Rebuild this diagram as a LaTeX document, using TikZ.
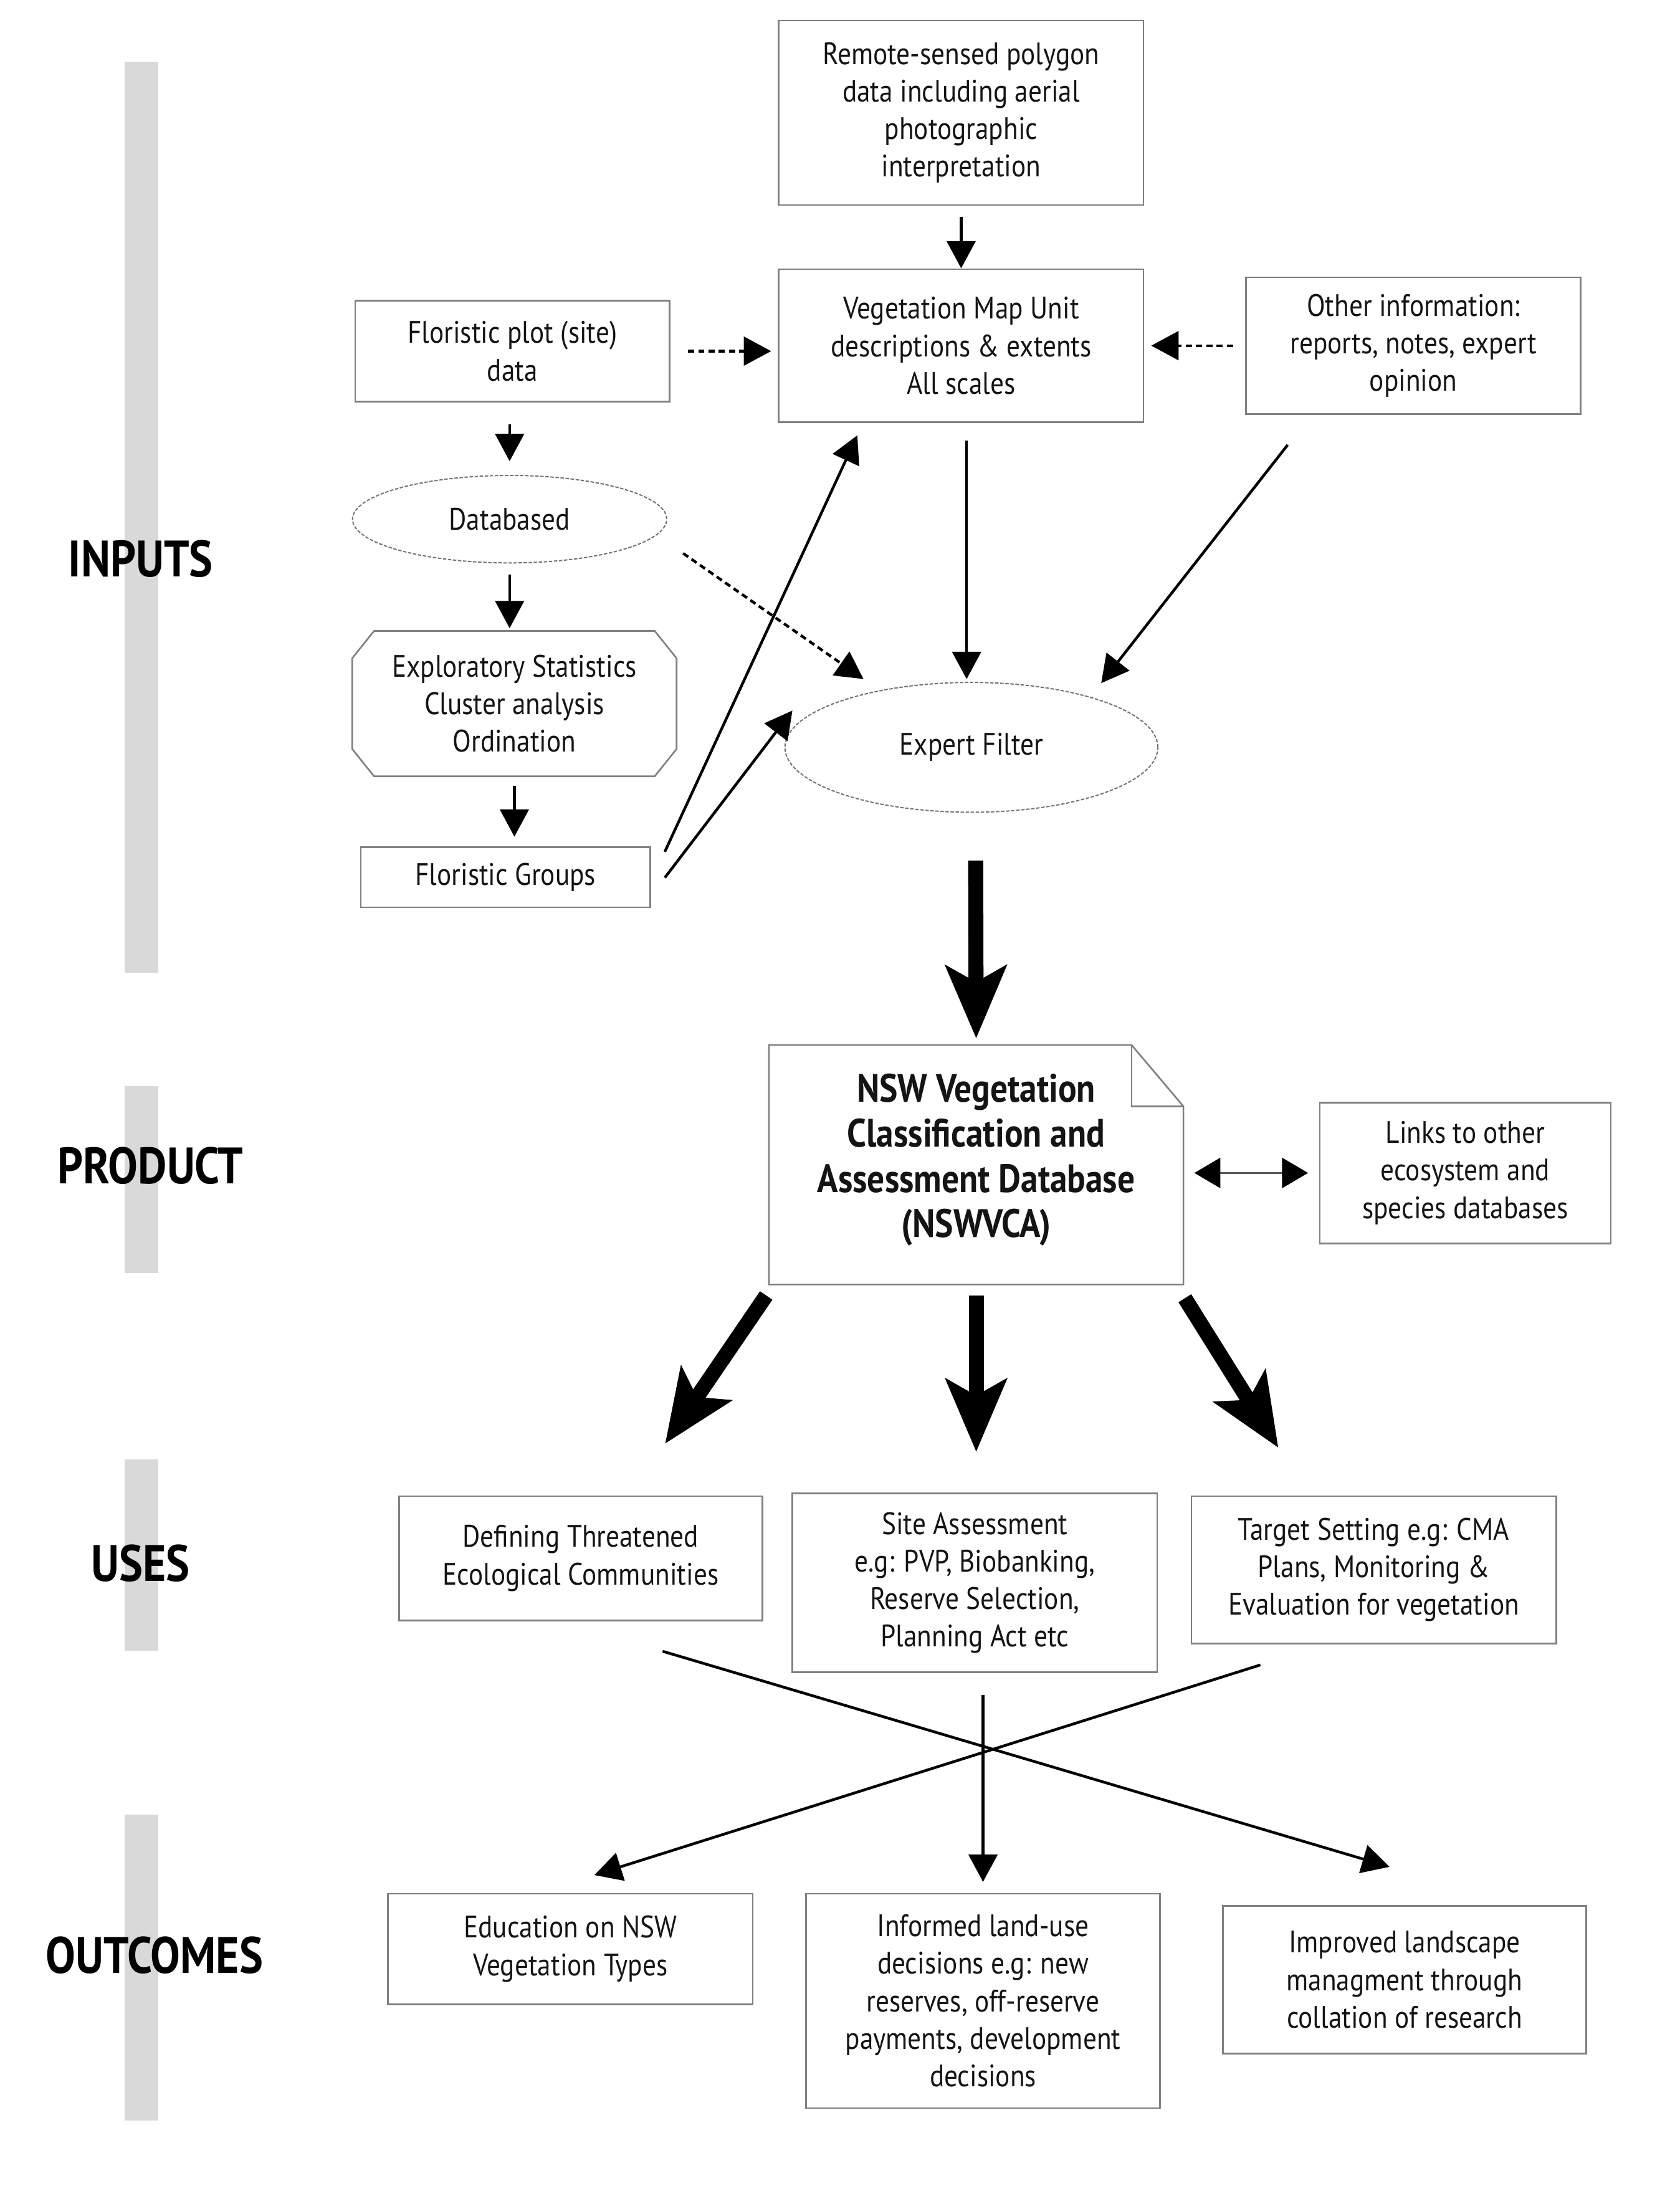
\documentclass[tikz,border=0pt]{standalone}
\usepackage{fontspec}
\setmainfont{PT Sans}[FakeStretch=0.87]
\usetikzlibrary{arrows.meta,shapes.geometric,calc}
\begin{document}
\begin{tikzpicture}[x=1pt,y=-1pt,
  txt/.style={align=center, inner sep=0pt, font=\fontsize{22.7}{27.5}\selectfont, text=black!92},
  bx/.style 2 args={txt, rectangle, draw=black!50, line width=1.2pt, minimum width=#1pt, minimum height=#2pt},
  plain/.style 2 args={txt, rectangle, minimum width=#1pt, minimum height=#2pt},
  ell/.style 2 args={txt, ellipse, draw=black!55, line width=0.9pt, dash pattern=on 2.5pt off 1.2pt, minimum width=#1pt, minimum height=#2pt},
  outline/.style={draw=black!50, line width=1.2pt},
  lbl/.style={font=\bfseries\fontsize{37.5}{40}\selectfont, inner sep=0pt},
  bar/.style={fill=black!15},
  thin/.style={line width=2pt, -{Triangle[length=20pt,width=21pt]}},
  dotarr/.style={thin, dash pattern=on 4.5pt off 3pt},
  thick/.style={line width=11pt, -{Stealth[length=54pt,width=46pt,inset=13pt,line width=0.5pt]}},
  dbl/.style={line width=1.6pt, draw=black!65, {Triangle[length=19pt,width=22pt,color=black]}-{Triangle[length=19pt,width=22pt,color=black]}}
]
\useasboundingbox (0,0) rectangle (1229.2,1600);

% gray bars
\fill[bar] (91,45) rectangle (116,712);
\fill[bar] (91,795) rectangle (116,932);
\fill[bar] (91,1068) rectangle (116,1208);
\fill[bar] (91,1328) rectangle (116,1552);

% section labels
\node[lbl] (linputs) at (103,409) {INPUTS};
\node[lbl] (lproduct) at (110,853) {PRODUCT};
\node[lbl] (luses) at (103,1144) {USES};
\node[lbl] (loutcomes) at (113,1431) {OUTCOMES};

% inputs
\node[bx={267}{135}] (remote) at (703.5,82.5) {Remote-sensed polygon\\data including aerial\\photographic\\interpretation};
\node[bx={267}{112}] (veg) at (703.5,253) {Vegetation Map Unit\\descriptions \& extents\\All scales};
\node[bx={230}{74}] (plot) at (375,257) {Floristic plot (site)\\data};
\node[bx={245}{100}] (other) at (1034.5,253) {Other information:\\reports, notes, expert\\opinion};
\node[ell={230}{64}] (databased) at (373,380) {Databased};
\node[plain={237}{106}] (explo) at (376.5,515) {Exploratory Statistics\\Cluster analysis\\Ordination};
\draw[outline] ([shift={(16,0)}]explo.north west) -- ([shift={(-16,0)}]explo.north east)
  -- ([shift={(0,20)}]explo.north east) -- ([shift={(0,-20)}]explo.south east)
  -- ([shift={(-16,0)}]explo.south east) -- ([shift={(16,0)}]explo.south west)
  -- ([shift={(0,-20)}]explo.south west) -- ([shift={(0,20)}]explo.north west) -- cycle;
\node[bx={212}{44}] (groups) at (370,642) {Floristic Groups};
\node[ell={273}{95}] (expert) at (711,547) {Expert Filter};

% product
\node[plain={303}{175}] (nsw) at (714.5,852.5) {};
\draw[outline] (nsw.north west) -- ([shift={(-38,0)}]nsw.north east) -- ([shift={(0,45)}]nsw.north east)
  -- (nsw.south east) -- (nsw.south west) -- cycle;
\draw[outline] ([shift={(-38,0)}]nsw.north east) -- ([shift={(-38,45)}]nsw.north east) -- ([shift={(0,45)}]nsw.north east);
\node[txt, font=\bfseries\fontsize{29}{33}\selectfont] (nswtext) at (714.5,849) {NSW Vegetation\\Classification and\\Assessment Database\\(NSWVCA)};
\node[bx={213}{103}] (links) at (1072.5,858.5) {Links to other\\ecosystem and\\species databases};

% uses
\node[bx={266}{91}] (use1) at (425,1140.5) {Defining Threatened\\Ecological Communities};
\node[bx={267}{131}] (use2) at (713.5,1158.5) {Site Assessment\\e.g: PVP, Biobanking,\\Reserve Selection,\\Planning Act etc};
\node[bx={267}{108}] (use3) at (1005.5,1149) {Target Setting e.g: CMA\\Plans, Monitoring \&\\Evaluation for vegetation};

% outcomes
\node[bx={267}{81}] (out1) at (417.5,1426.5) {Education on NSW\\Vegetation Types};
\node[bx={259}{157}] (out2) at (719.5,1464.5) {Informed land-use\\decisions e.g: new\\reserves, off-reserve\\payments, development\\decisions};
\node[bx={266}{108}] (out3) at (1028,1449) {Improved landscape\\managment through\\collation of research};

% connectors - inputs
\draw[thin, shorten <=8pt] (remote.south) -- (veg.north);
\draw[thin, shorten <=16pt, shorten >=10pt] (plot.south -| databased.north) -- (databased.north);
\draw[thin, shorten <=8pt, shorten >=2pt] (databased.south) -- (databased.south |- explo.north);
\draw[thin, shorten <=7pt, shorten >=7pt] (explo.south) -- (explo.south |- groups.north);
\draw[dotarr, shorten <=13pt, shorten >=5pt] (plot.east) -- (plot.east -| veg.west);
\draw[dotarr, shorten <=9pt, shorten >=5pt] (other.west |- veg.east) -- (veg.east);
\draw[dotarr] ([shift={(127,25)}]databased.center) -- ([shift={(-79,-50)}]expert.center);
\draw[thin] ([shift={(10,4)}]groups.north east) -- ([shift={(-76,9)}]veg.south);
\draw[thin] ([shift={(10,23)}]groups.north east) -- ([shift={(-131,21)}]expert.north);
\draw[thin, shorten <=13pt, shorten >=2pt] ([shift={(4,0)}]veg.south) -- ([shift={(4,0)}]veg.south |- expert.north);
\draw[thin] ([shift={(-92,22)}]other.south) -- ([shift={(95,-47)}]expert.center);

% main thick arrow
\draw[thick, shorten <=35pt, shorten >=5pt] ([shift={(3,0)}]expert.south) -- ([shift={(0,0)}]nsw.north);
\draw[dbl, shorten <=8pt, shorten >=8pt] (nsw.east |- links.west) -- (links.west);

% product to uses
\draw[thick] ([shift={(-2,8)}]nsw.south west) -- ([shift={(62,-38)}]use1.north);
\draw[thick, shorten <=8pt, shorten >=30pt] (nsw.south) -- (nsw.south |- use2.north);
\draw[thick] ([shift={(1,10)}]nsw.south east) -- ([shift={(-70,-35)}]use3.north);

% uses to outcomes
\draw[thin] ([shift={(60,22)}]use1.south) -- ([shift={(-11,-28)}]out3.north);
\draw[thin] ([shift={(-83,15)}]use3.south) -- ([shift={(17.5,-13)}]out1.north);
\draw[thin, shorten <=16pt, shorten >=8pt] (out2.north |- use2.south) -- (out2.north);
\end{tikzpicture}
\end{document}
